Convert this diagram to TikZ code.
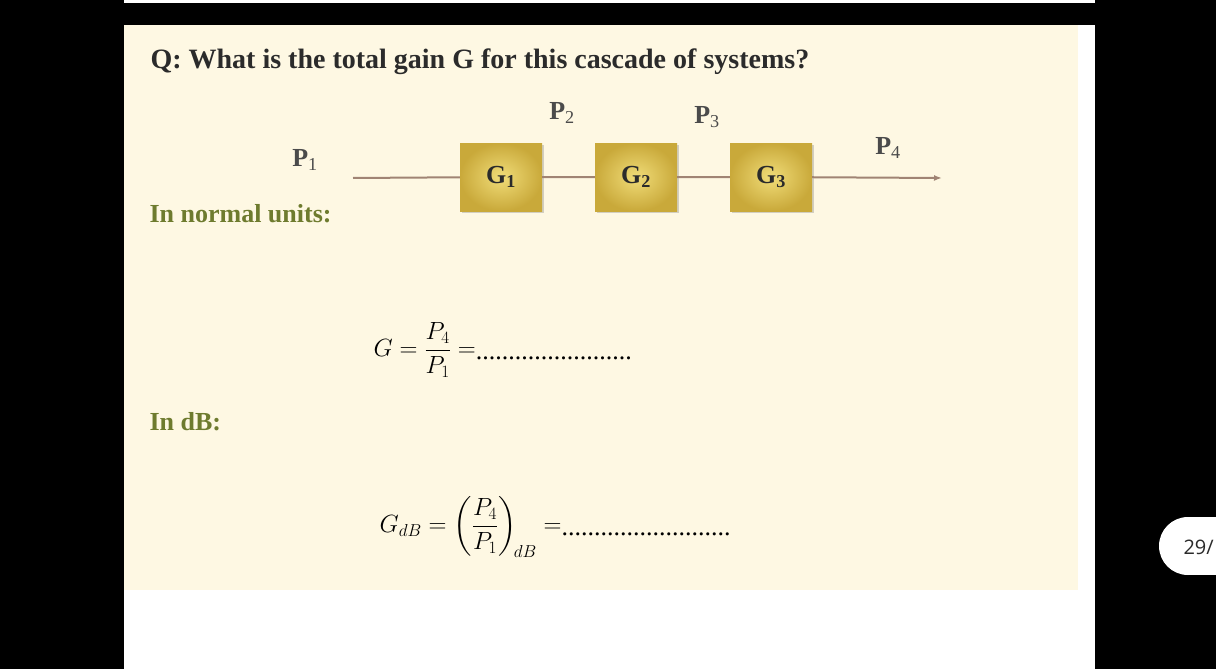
\documentclass[tikz,border=0pt]{standalone}
\usepackage{amsmath}
\usepackage{fontspec}
\setmainfont{Liberation Serif}
\newfontfamily\uisans{Open Sans}
\usetikzlibrary{shadows,arrows.meta}
\definecolor{cream}{HTML}{FEF8E3}
\definecolor{olive}{HTML}{6E7B2E}
\definecolor{wire}{HTML}{A08474}
\definecolor{goldA}{HTML}{F0DC78}
\definecolor{goldB}{HTML}{C9A93A}
\definecolor{ink}{HTML}{2B2B2B}
\tikzset{
  gbox/.style={draw=none, minimum width=82pt, minimum height=68pt, inner color=goldA, outer color=goldB,
    drop shadow={shadow xshift=2pt, shadow yshift=-2pt, opacity=.35}, font=\fontsize{26}{28}\selectfont\bfseries, text=ink},
  plab/.style={font=\fontsize{26}{28}\selectfont\bfseries, text=ink!85},
  sec/.style={font=\fontsize{26}{28}\selectfont\bfseries, text=olive, anchor=west},
  eq/.style={font=\fontsize{26}{28}\selectfont, anchor=west},
}
\begin{document}
\begin{tikzpicture}[x=1pt,y=-1pt]
\useasboundingbox (0,0) rectangle (1216,669);
\fill[black] (0,0) rectangle (1216,669);
\fill[white] (124,0) rectangle (1095,3);
\fill[white] (124,25) rectangle (1095,669);
\fill[cream] (124,25) rectangle (1078,590);
\node[anchor=west, font=\fontsize{28}{30}\selectfont\bfseries, text=ink] (title) at (147,62) {Q: What is the total gain G for this cascade of systems?};
\node[gbox] (g1) at (501,177) {G$_{\mathbf 1}$};
\node[gbox] (g2) at (636,177) {G$_{\mathbf 2}$};
\node[gbox] (g3) at (771,177) {G$_{\mathbf 3}$};
\coordinate (s) at (353,178);
\coordinate (e) at (942,178);
\draw[wire, line width=2pt] (s) -- (g1) (g1) -- (g2) (g2) -- (g3);
\draw[wire, line width=2pt, -{Latex[length=8pt]}] (g3) -- (e);
\node[plab] (p1) at (305,160) {P$_{\mathrm 1}$};
\node[plab] (p2) at (562,113) {P$_{\mathrm 2}$};
\node[plab] (p3) at (707,117) {P$_{\mathrm 3}$};
\node[plab] (p4) at (888,148) {P$_{\mathrm 4}$};
\node[sec] (n1) at (146,214) {In normal units:};
\node[sec] (n2) at (146,422) {In dB:};
\node[eq] (e1) at (370,350) {$G=\dfrac{P_4}{P_1}=$\raisebox{-3pt}{........................}};
\node[eq] (e2) at (376,527) {$G_{dB}=\left(\dfrac{P_4}{P_1}\right)_{\!dB}=$\raisebox{-3pt}{..........................}};
\fill[white] (1185,517) rectangle (1216,575);
\fill[white] (1188,546) circle (29);
\node[font=\uisans\fontsize{20}{22}\selectfont, text=ink, anchor=west] (pg) at (1180,547) {29/};
\end{tikzpicture}
\end{document}
